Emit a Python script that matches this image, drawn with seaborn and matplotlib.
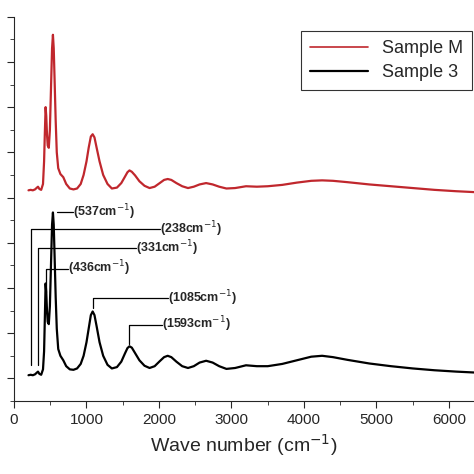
import matplotlib
matplotlib.use("Agg")
import matplotlib.pyplot as plt
import seaborn as sns
import pandas as pd
from matplotlib.lines import Line2D

sns.set_style("ticks")
plt.rcParams['font.family'] = ['Liberation Sans', 'DejaVu Sans']

wave = [200,230,260,290,310,331,350,375,400,415,425,436,445,455,465,480,495,510,525,537,548,560,575,590,610,640,680,720,770,820,870,920,960,1000,1030,1060,1085,1110,1140,1180,1230,1290,1350,1420,1480,1530,1565,1593,1625,1670,1730,1800,1870,1940,2010,2070,2120,2170,2240,2320,2400,2480,2560,2650,2740,2830,2930,3050,3200,3350,3500,3700,3900,4100,4250,4400,4600,4900,5200,5500,5800,6100,6350]
sample3 = [0.07,0.08,0.07,0.09,0.12,0.15,0.10,0.08,0.2,0.6,1.3,2.1,1.9,1.5,1.25,1.2,1.6,2.5,3.4,3.67,3.4,2.7,1.8,1.1,0.65,0.5,0.4,0.27,0.2,0.19,0.22,0.32,0.5,0.8,1.1,1.4,1.48,1.4,1.15,0.8,0.5,0.3,0.22,0.25,0.37,0.55,0.67,0.71,0.68,0.56,0.4,0.28,0.23,0.27,0.38,0.47,0.5,0.47,0.37,0.27,0.23,0.27,0.35,0.39,0.35,0.27,0.21,0.23,0.29,0.27,0.27,0.32,0.4,0.48,0.5,0.47,0.41,0.33,0.27,0.22,0.18,0.15,0.13]
sampleM = [4.16,4.17,4.16,4.18,4.21,4.24,4.19,4.17,4.3,4.8,5.4,6.0,5.8,5.4,5.15,5.1,5.5,6.4,7.3,7.6,7.3,6.6,5.7,5.0,4.65,4.52,4.45,4.3,4.2,4.18,4.2,4.3,4.5,4.8,5.1,5.35,5.4,5.33,5.1,4.8,4.5,4.3,4.2,4.22,4.32,4.46,4.56,4.6,4.57,4.49,4.36,4.26,4.21,4.24,4.32,4.39,4.41,4.39,4.32,4.25,4.21,4.24,4.29,4.32,4.29,4.24,4.2,4.21,4.25,4.24,4.25,4.28,4.33,4.37,4.38,4.37,4.34,4.29,4.25,4.21,4.17,4.14,4.12]

peaks = ["238", "331", "436", "537", "1085", "1593"]
peak_x = [238, 331, 436, 600, 1085, 1593]
peak_y0 = [0.3, 0.3, 1.9, 3.67, 1.55, 0.77]
peak_y1 = [3.30, 2.88, 2.43, 3.67, 1.77, 1.19]
label_x = [2014, 1683, 745, 814, 2124, 2041]

df = pd.concat([
    pd.DataFrame({"x": wave, "y": sampleM, "s": "Sample M"}),
    pd.DataFrame({"x": wave, "y": sample3, "s": "Sample 3"}),
])

fig = plt.figure(figsize=(4.74, 4.74), dpi=100)
ax = fig.add_axes([14/474, 1-401/474, 1-14/474, (401-16.7)/474])
sns.lineplot(data=df, x="x", y="y", hue="s", palette={"Sample M": "#c0272d", "Sample 3": "black"},
             ax=ax, lw=1.6, legend=False, sort=False)

for p, px, y0, y1, lx in zip(peaks, peak_x, peak_y0, peak_y1, label_x):
    ax.plot([px, px, lx], [y0, y1, y1], color="black", lw=0.9)
    ax.text(lx, y1, f"({p}cm$^{{-1}}$)", fontsize=9, fontweight="bold", va="center", ha="left")

ax.set_xlim(0, 6345)
ax.set_ylim(-0.5, 8.0)
ax.set_xticks(range(0, 7000, 1000))
ax.set_xticks(range(500, 6500, 1000), minor=True)
ax.set_yticks(range(0, 9))
ax.set_yticks([i + 0.5 for i in range(-1, 8)], minor=True)
ax.set_yticklabels([])
ax.tick_params(axis="both", which="major", length=5, direction="out", labelsize=11)
ax.tick_params(axis="both", which="minor", length=3, direction="out")
ax.set_xlabel("Wave number (cm$^{-1}$)", fontsize=14)
ax.set_ylabel("")
sns.despine(ax=ax)

handles = [Line2D([], [], color="#c0272d", lw=1.2), Line2D([], [], color="black", lw=1.6)]
leg = fig.legend(handles, ["Sample M", "Sample 3"], loc="upper left",
                 bbox_to_anchor=(292/474, 1-22/474, 0.45, 0.0),
                 fontsize=13, frameon=True, fancybox=False, edgecolor="black",
                 handlelength=3.2, borderpad=0.5, labelspacing=0.4)
leg.get_frame().set_linewidth(0.8)

fig.savefig("out.png", dpi=100)
